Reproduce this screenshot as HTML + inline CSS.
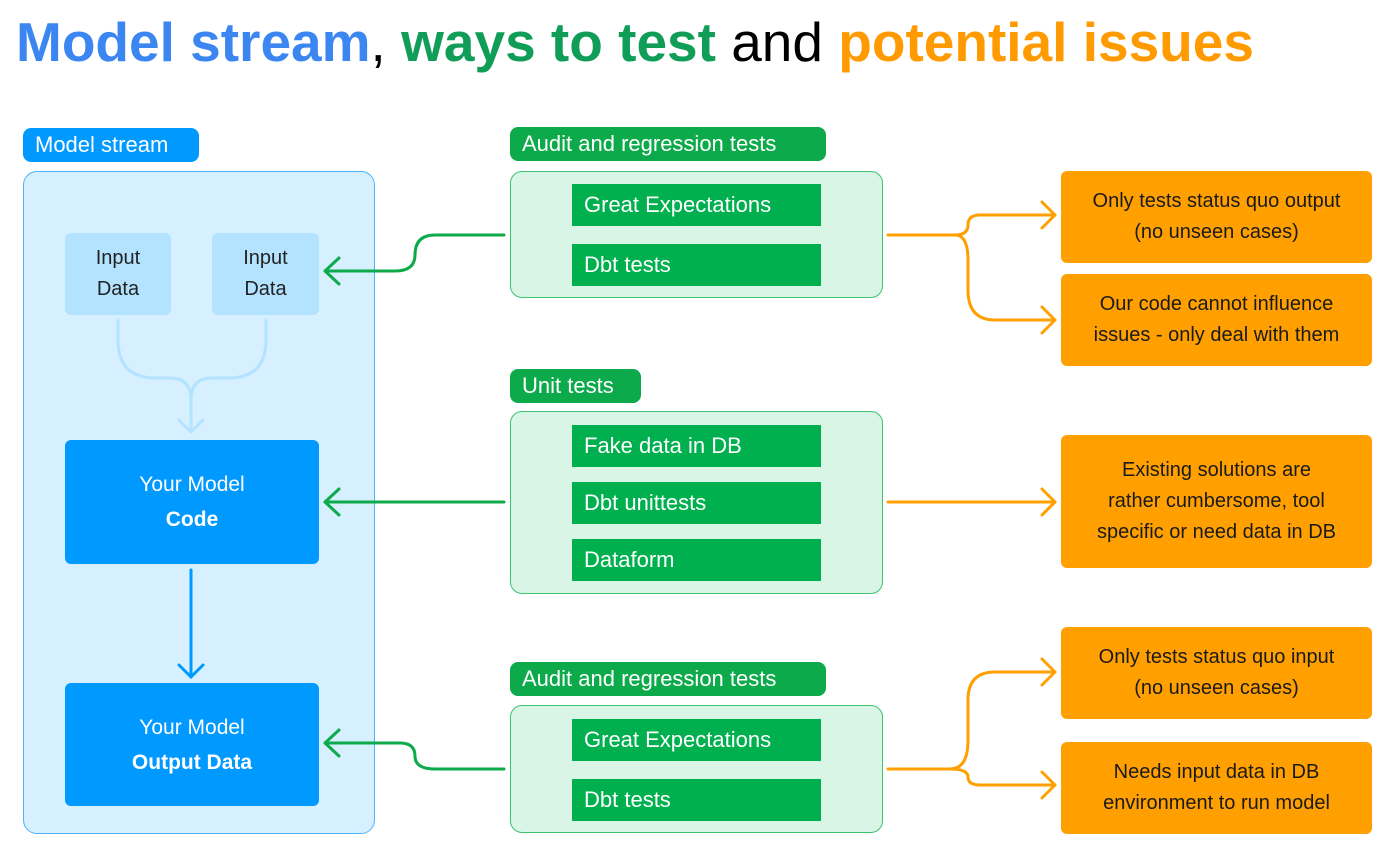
<!DOCTYPE html>
<html><head><meta charset="utf-8"><style>
body{margin:0;width:1400px;height:849px;background:#fff;position:relative;overflow:hidden;font-family:"Liberation Sans",sans-serif}
.a{position:absolute;box-sizing:border-box}
.t{display:flex;align-items:center;justify-content:center;text-align:center}
.lbl{color:#fff;font-size:22px;border-radius:8px;padding-left:12px;display:flex;align-items:center}
.gl{background:#0caa4a}
.gb{background:#d9f5e6;border:1.5px solid #3cc46f;border-radius:12px}
.it{background:#00b04f;color:#fff;font-size:22px;display:flex;align-items:center;padding-left:12px;left:572px;width:249px;height:42px}
.ob{background:#ffa000;border-radius:6px;color:#1a1a1a;font-size:20px;line-height:31px;left:1061px;width:311px}
</style></head><body>
<div class="a" style="left:16px;top:10px;font-size:55px;font-weight:bold;white-space:nowrap"><span style="color:#3b86f0">Model stream</span><span style="font-weight:normal">, </span><span style="color:#0f9d58">ways to test</span><span style="font-weight:normal"> and </span><span style="color:#ff9a00">potential issues</span></div>

<div class="a lbl" style="left:23px;top:128px;width:176px;height:34px;background:#0099ff">Model stream</div>
<div class="a" style="left:23px;top:171px;width:352px;height:663px;background:#d6f0ff;border:1.5px solid #4db3ff;border-radius:14px"></div>
<div class="a t" style="left:65px;top:233px;width:106px;height:82px;background:#b3e3ff;border-radius:6px;font-size:20px;line-height:31px;color:#222"><div>Input<br>Data</div></div>
<div class="a t" style="left:212px;top:233px;width:107px;height:82px;background:#b3e3ff;border-radius:6px;font-size:20px;line-height:31px;color:#222"><div>Input<br>Data</div></div>
<div class="a t" style="left:65px;top:440px;width:254px;height:124px;background:#0099ff;border-radius:6px;color:#fff;font-size:21px;line-height:35px"><div>Your Model<br><b>Code</b></div></div>
<div class="a t" style="left:65px;top:683px;width:254px;height:123px;background:#0099ff;border-radius:6px;color:#fff;font-size:21px;line-height:35px"><div>Your Model<br><b>Output Data</b></div></div>

<div class="a lbl gl" style="left:510px;top:127px;width:316px;height:34px">Audit and regression tests</div>
<div class="a gb" style="left:510px;top:171px;width:373px;height:127px"></div>
<div class="a it" style="top:184px">Great Expectations</div>
<div class="a it" style="top:244px">Dbt tests</div>

<div class="a lbl gl" style="left:510px;top:369px;width:131px;height:34px">Unit tests</div>
<div class="a gb" style="left:510px;top:411px;width:373px;height:183px"></div>
<div class="a it" style="top:425px">Fake data in DB</div>
<div class="a it" style="top:482px">Dbt unittests</div>
<div class="a it" style="top:539px">Dataform</div>

<div class="a lbl gl" style="left:510px;top:662px;width:316px;height:34px">Audit and regression tests</div>
<div class="a gb" style="left:510px;top:705px;width:373px;height:128px"></div>
<div class="a it" style="top:719px">Great Expectations</div>
<div class="a it" style="top:779px">Dbt tests</div>

<div class="a t ob" style="top:171px;height:92px"><div>Only tests status quo output<br>(no unseen cases)</div></div>
<div class="a t ob" style="top:274px;height:92px"><div>Our code cannot influence<br>issues - only deal with them</div></div>
<div class="a t ob" style="top:435px;height:133px"><div>Existing solutions are<br>rather cumbersome, tool<br>specific or need data in DB</div></div>
<div class="a t ob" style="top:627px;height:92px"><div>Only tests status quo input<br>(no unseen cases)</div></div>
<div class="a t ob" style="top:742px;height:92px"><div>Needs input data in DB<br>environment to run model</div></div>

<svg class="a" style="left:0;top:0" width="1400" height="849" fill="none" stroke-linecap="round" stroke-linejoin="round">
<g stroke="#b3e3ff" stroke-width="3">
<path d="M118 320 V340 Q118 378 156 378 H170 Q191 378 191 400 V432"/>
<path d="M266 320 V340 Q266 378 228 378 H212 Q191 378 191 400"/>
<path d="M179 420 L191 432 L203 420"/>
</g>
<g stroke="#0099ff" stroke-width="3">
<path d="M191 570 V677"/><path d="M179 665 L191 677 L203 665"/>
</g>
<g stroke="#0caa4a" stroke-width="3">
<path d="M504 235 H435 Q415 235 415 255 Q415 271 395 271 H325"/><path d="M339 258 L325 271 L339 284"/>
<path d="M504 502 H325"/><path d="M339 489 L325 502 L339 515"/>
<path d="M504 769 H435 Q415 769 415 756 Q415 743 400 743 H325"/><path d="M339 730 L325 743 L339 756"/>
</g>
<g stroke="#ffa000" stroke-width="3">
<path d="M888 235 H955 Q968 235 968 225 Q968 215 980 215 H1055"/><path d="M1042 202 L1055 215 L1042 228"/>
<path d="M955 235 Q968 235 968 260 V290 Q968 320 995 320 H1055"/><path d="M1042 307 L1055 320 L1042 333"/>
<path d="M888 502 H1055"/><path d="M1042 489 L1055 502 L1042 515"/>
<path d="M888 769 H950 Q968 769 968 740 V700 Q968 672 995 672 H1055"/><path d="M1042 659 L1055 672 L1042 685"/>
<path d="M950 769 Q968 769 968 777 Q968 785 980 785 H1055"/><path d="M1042 772 L1055 785 L1042 798"/>
</g>
</svg>
</body></html>
